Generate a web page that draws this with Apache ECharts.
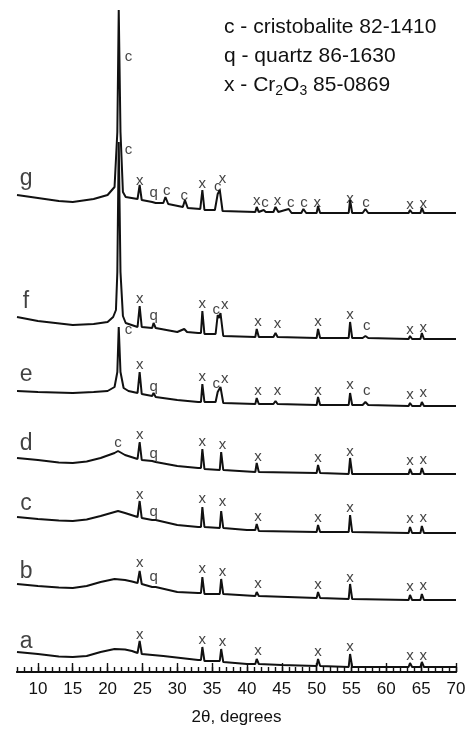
<!DOCTYPE html>
<html><head><meta charset="utf-8">
<script src="https://cdn.jsdelivr.net/npm/echarts@6/dist/echarts.min.js"></script>
<style>html,body{margin:0;padding:0;background:#fff}#c{width:474px;height:731px}</style>
</head><body><div id="c"></div>
<script>
// XRD patterns, intensity offset (arb. units), x = 2theta
const traceA = [[7,20],[10,18],[13,15.5],[15,15],[17,16],[19,20],[21,23],[22.5,22.5],[23.5,21],[24.3,19],[24.6,31],[24.9,18],[28,16],[33,12],[33.4,12],[33.6,25],[33.9,11],[35,11],[36.1,11],[36.3,23],[36.6,10],[40,8],[41.2,8],[41.4,13],[41.7,8],[45,7],[50,6],[50.2,13],[50.5,6],[54.6,5],[54.8,18],[55.1,5],[63.2,5],[63.4,9],[63.7,5],[64.9,5],[65.1,10],[65.4,5],[70,5]];
const traceB = [[7,88],[10,86],[13,84.5],[15,84],[17,86],[19,90],[21,93],[22.5,92],[23.5,90.5],[24.3,89],[24.6,101],[24.9,88],[26.4,85],[26.6,87],[26.9,85],[30,80],[33,79],[33.4,79],[33.6,95],[33.9,78],[36.1,78],[36.3,93],[36.6,78],[41.2,76],[41.4,80],[41.7,76],[50,74],[50.2,80],[50.5,74],[54.6,73],[54.8,88],[55.1,73],[63.2,72],[63.4,77],[63.7,72],[64.9,72],[65.1,78],[65.4,72],[70,72]];
const traceC = [[7,155],[10,153],[13,151.5],[15,151],[17,152.5],[19,156],[21,160],[21.5,161],[22.5,159],[24.3,155],[24.6,171],[24.9,154],[26.4,152],[26.6,154],[26.9,152],[30,147],[33,145],[33.4,145],[33.6,165],[33.9,145],[36.1,144],[36.3,161],[36.6,144],[40,142],[41.2,142],[41.4,148],[41.7,141],[50,140],[50.2,147],[50.5,140],[54.6,140],[54.8,157],[55.1,140],[63.2,139],[63.4,145],[63.7,139],[64.9,139],[65.1,146],[65.4,139],[70,139]];
const traceD = [[7,214],[10,212],[13,209.5],[15,209],[17,210.5],[19,214],[21,219],[21.5,221],[22.5,217],[24.3,213],[24.6,230],[24.9,212],[26.4,211],[26.6,212],[26.9,210],[30,206],[33,204],[33.4,204],[33.6,223],[33.9,203],[36.1,202],[36.3,220],[36.6,202],[41.2,200],[41.4,209],[41.7,200],[50,199],[50.2,207],[50.5,199],[54.6,198],[54.8,214],[55.1,198],[63.2,198],[63.4,203],[63.7,198],[64.9,198],[65.1,204],[65.4,198],[70,198]];
const traceE = [[7,281],[10,280],[15,279],[18,280],[20,281],[21,285],[21.4,300],[21.6,345],[21.85,300],[22.3,284],[23,281],[24.3,279],[24.6,300],[24.9,278],[26.4,276],[26.6,279],[26.9,275],[30,272],[33,270],[33.4,270],[33.6,288],[33.9,270],[35.5,270],[35.8,280],[36.0,278],[36.2,285],[36.6,269],[41.2,268],[41.4,274],[41.7,268],[43.8,268],[44.1,271],[44.4,268],[50,267],[50.2,275],[50.5,267],[54.6,267],[54.8,279],[55.1,267],[56.6,267],[57,270],[57.4,267],[63.2,266],[63.4,269],[63.7,266],[64.9,266],[65.1,270],[65.4,266],[70,266]];
const traceF = [[7,355],[10,351],[15,347],[18,348],[20,350],[20.8,355],[21.2,362],[21.4,400],[21.6,530],[21.85,400],[22.2,356],[22.6,349],[24.3,345],[24.6,366],[24.9,345],[26.4,344],[26.6,349],[26.9,344],[30,340],[31,343],[31.4,340],[33,339],[33.4,339],[33.6,361],[33.9,338],[35.5,338],[35.8,357],[36.0,354],[36.2,359],[36.6,336],[41.2,335],[41.4,343],[41.7,335],[43.8,335],[44.1,339],[44.4,335],[50,334],[50.2,343],[50.5,334],[54.6,334],[54.8,350],[55.1,334],[56.6,334],[57,336],[57.4,334],[63.2,333],[63.4,336],[63.7,333],[64.9,333],[65.1,339],[65.4,333],[70,333]];
const traceG = [[7,477],[10,474],[13,471],[15,470],[18,473],[20,477],[21,485],[21.4,540],[21.6,662],[21.85,540],[22.2,480],[22.6,475],[24.3,473],[24.6,487],[24.9,472],[26.4,470],[26.6,472],[26.9,469],[28,469],[28.3,475],[28.7,468],[30.8,465],[31.1,472],[31.5,464],[33.3,463],[33.6,482],[33.9,462],[35.4,462],[35.8,478],[36.1,482],[36.5,461],[41.2,460],[41.4,465],[41.7,460],[42.4,462],[42.7,460],[43.8,460],[44.1,465],[44.5,460],[46,463],[46.4,459],[47.8,459],[48.1,463],[48.5,459],[50,459],[50.2,466],[50.5,459],[54.6,459],[54.8,472],[55.1,459],[56.6,459],[57,463],[57.4,459],[63.2,459],[63.4,462],[63.7,459],[64.9,459],[65.1,464],[65.4,459],[70,459]];
const traces = [traceA, traceB, traceC, traceD, traceE, traceF, traceG];
const traceNames = ['a','b','c','d','e','f','g'];
const traceNamePos = [[8.3,30],[8.3,100],[8.3,168],[8.3,228],[8.3,297],[8.3,370],[8.3,493]];
// phase marks: [2theta, height, letter]
const phaseMarks = [
 [24.6,37,'x'],[33.6,32,'x'],[36.5,30,'x'],[41.6,21,'x'],[50.2,20,'x'],[54.8,25,'x'],[63.4,16,'x'],[65.3,16,'x'],
 [24.6,109,'x'],[26.6,95,'q'],[33.6,103,'x'],[36.5,100,'x'],[41.6,88,'x'],[50.2,87,'x'],[54.8,94,'x'],[63.4,85,'x'],[65.3,86,'x'],
 [24.6,177,'x'],[26.6,160,'q'],[33.6,173,'x'],[36.5,170,'x'],[41.6,155,'x'],[50.2,154,'x'],[54.8,164,'x'],[63.4,153,'x'],[65.3,154,'x'],
 [21.5,229,'c'],[24.6,237,'x'],[26.6,218,'q'],[33.6,230,'x'],[36.5,227,'x'],[41.6,215,'x'],[50.2,214,'x'],[54.8,220,'x'],[63.4,211,'x'],[65.3,212,'x'],
 [23.0,342,'c'],[24.6,307,'x'],[26.6,285,'q'],[33.6,295,'x'],[35.6,288,'c'],[36.8,293,'x'],[41.6,281,'x'],[44.4,281,'x'],[50.2,281,'x'],[54.8,287,'x'],[57.2,281,'c'],[63.4,277,'x'],[65.3,279,'x'],
 [23.0,522,'c'],[24.6,373,'x'],[26.6,356,'q'],[33.6,368,'x'],[35.6,362,'c'],[36.8,367,'x'],[41.6,350,'x'],[44.4,348,'x'],[50.2,350,'x'],[54.8,357,'x'],[57.2,346,'c'],[63.4,342,'x'],[65.3,344,'x'],
 [23.0,615,'c'],[24.6,491,'x'],[26.6,479,'q'],[28.5,481,'c'],[31.0,476,'c'],[33.6,488,'x'],[35.8,485,'c'],[36.5,493,'x'],[41.4,471,'x'],[42.6,469,'c'],[44.4,471,'x'],[46.3,469,'c'],[48.2,469,'c'],[50.1,469,'x'],[54.8,473,'x'],[57.1,469,'c'],[63.4,467,'x'],[65.3,468,'x']
];
const majorTicks = [10,15,20,25,30,35,40,45,50,55,60,65,70];
const minorTicks = [];
for (let v = 7; v <= 70; v++) minorTicks.push(v);

const FONT = 'Liberation Sans';
const series = traces.map((t, i) => ({
  type:'line', data:t, showSymbol:false, silent:true, animation:false,
  lineStyle:{color:'#111', width:2}, xAxisIndex:0, yAxisIndex:0
}));
series.push({
  type:'scatter', symbolSize:0, silent:true, animation:false,
  data: phaseMarks.map(m => ({value:[m[0], m[1]], name:m[2]})),
  label:{show:true, formatter:p=>p.name, position:'inside', color:'#111', fontSize:15, fontFamily:FONT}
});
series.push({
  type:'scatter', symbolSize:0, silent:true, animation:false,
  data: traceNamePos.map((p,i) => ({value:p, name:traceNames[i]})),
  label:{show:true, formatter:p=>p.name, position:'inside', color:'#111', fontSize:23, fontFamily:FONT}
});
const chart = echarts.init(document.getElementById('c'));
chart.setOption({
  animation:false,
  grid:{left:17, right:18, top:10, bottom:59, containLabel:false},
  xAxis:[{
    type:'value', min:7, max:70,
    axisLine:{show:true, onZero:false, lineStyle:{color:'#111', width:1.8}},
    axisTick:{show:true, inside:true, length:5, customValues:minorTicks, lineStyle:{color:'#111', width:1.4}},
    axisLabel:{show:true, customValues:majorTicks, color:'#111', fontSize:17, fontFamily:FONT, margin:9},
    splitLine:{show:false},
    name:'2θ, degrees', nameLocation:'middle', nameGap:37,
    nameTextStyle:{color:'#111', fontSize:17, fontFamily:FONT}
  },{
    type:'value', min:7, max:70, position:'bottom',
    axisLine:{show:true, onZero:false, lineStyle:{color:'#111', width:1.8}},
    axisTick:{show:true, inside:true, length:9, customValues:majorTicks, lineStyle:{color:'#111', width:1.4}},
    axisLabel:{show:false}, splitLine:{show:false}
  }],
  yAxis:{type:'value', min:0, max:662, show:false},
  graphic:[{
    type:'text', left:224, top:13,
    style:{text:'c - cristobalite 82-1410\nq - quartz 86-1630\n{a|x - Cr}{s|2}{a|O}{s|3}{a| 85-0869}',
      font:'21px "Liberation Sans"', fill:'#111', lineHeight:29,
      rich:{a:{fontSize:21, fontFamily:FONT, fill:'#111', lineHeight:29}, s:{fontSize:14, fontFamily:FONT, fill:'#111', padding:[12,0,0,0]}}}
  }],
  series
});
</script></body></html>
